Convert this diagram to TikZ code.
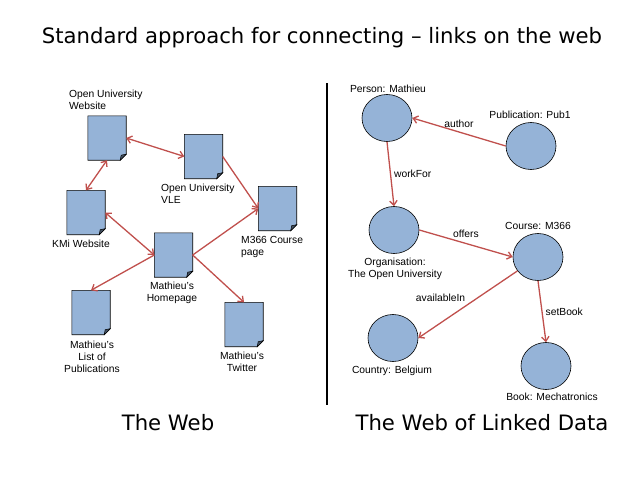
\documentclass[tikz,border=0pt]{standalone}
\usepackage{fontspec}
\setmainfont{Liberation Sans}
\newfontfamily\titlefont{DejaVu Sans}
\usetikzlibrary{arrows.meta,shapes.geometric}

\definecolor{docblue}{RGB}{149,179,215}
\definecolor{linkred}{RGB}{192,80,77}

\tikzset{
	doc/.style={rectangle, minimum width=38pt, minimum height=44pt, inner sep=0pt,
		append after command={\pgfextra{
			\filldraw[fill=docblue, draw=black, line width=0.6pt]
				(\tikzlastnode.north west) -- (\tikzlastnode.north east)
				-- ([yshift=6pt]\tikzlastnode.south east)
				-- ([xshift=-6pt]\tikzlastnode.south east)
				-- (\tikzlastnode.south west) -- cycle;
			\filldraw[fill=docblue!45!black, draw=black, line width=0.5pt]
				([yshift=6pt]\tikzlastnode.south east)
				-- ([xshift=-6pt]\tikzlastnode.south east)
				-- ([xshift=-5pt,yshift=5pt]\tikzlastnode.south east) -- cycle;
		}}},
	res/.style={ellipse, draw=black, fill=docblue, line width=0.6pt,
		minimum width=50pt, minimum height=47pt, inner sep=0pt},
	lbl/.style={font=\fontsize{10.3}{11.8}\selectfont, inner sep=0pt},
	link/.style={draw=linkred, line width=1.3pt, -{Straight Barb[length=4.5pt,width=7.5pt]}},
	bilink/.style={draw=linkred, line width=1.3pt, {Straight Barb[length=4.5pt,width=7.5pt]}-{Straight Barb[length=4.5pt,width=7.5pt]}},
	big/.style={font=\titlefont\fontsize{21.2}{25}\selectfont, inner sep=0pt, anchor=base}
}

\begin{document}
\begin{tikzpicture}[x=1pt,y=-1pt]
	\useasboundingbox (0,0) rectangle (638,479);
	
	\node[big] (title) at (322,43) {Standard approach for connecting – links on the web};
	\node[big] (web) at (168,430) {The Web};
	\node[big] (lod) at (482,430) {The Web of Linked Data};
	
	\coordinate (divtop) at (327,83);
	\coordinate (divbot) at (327,405);
	\draw[line width=1.6pt] (divtop) -- (divbot);
	
	% the web
	\node[doc] (ouweb)   at (107,138)   {};
	\node[doc] (ouvle)   at (203.5,156.5) {};
	\node[doc] (kmi)     at (86,212.5)  {};
	\node[doc] (m366)    at (277.5,208.5) {};
	\node[doc] (home)    at (173.5,255) {};
	\node[doc] (pubs)    at (91,312.5)  {};
	\node[doc] (twitter) at (244,324.5) {};
	
	\node[lbl, align=left, anchor=north west]  (ouwebl)   at (69,90)   {Open University\\Website};
	\node[lbl, align=left, anchor=north west]  (ouvlel)   at (161,184) {Open University\\VLE};
	\node[lbl, align=left, anchor=north west]  (kmil)     at (52,240)  {KMi Website};
	\node[lbl, align=left, anchor=north west]  (m366l)    at (241,236) {M366 Course\\page};
	\node[lbl, align=center, anchor=north]     (homel)    at (172,282) {Mathieu's\\Homepage};
	\node[lbl, align=center, anchor=north]     (pubsl)    at (92,341)  {Mathieu's\\List of\\Publications};
	\node[lbl, align=center, anchor=north]     (twitterl) at (242,352) {Mathieu's\\Twitter};
	
	\draw[bilink] (ouweb.east) -- (ouvle.west);
	\draw[bilink] (ouweb.south) -- (kmi.north);
	\draw[bilink] (kmi.east) -- (home.west);
	\draw[link] (ouvle.east) -- (m366.west);
	\draw[link] (home.east) -- (m366.west);
	\draw[link] (home.west) -- (pubs.north);
	\draw[link] (home.east) -- (twitter.north);
	
	% the web of linked data
	\node[res] (person)  at (387,118) {};
	\node[res] (pub1)    at (531,146) {};
	\node[res] (org)     at (394,230) {};
	\node[res] (course)  at (538,257) {};
	\node[res] (belgium) at (393,338) {};
	\node[res] (mech)    at (546,366) {};
	
	\node[lbl, anchor=north] (personl)  at (388,85)  {Person: Mathieu};
	\node[lbl, anchor=north] (pub1l)    at (530,111) {Publication: Pub1};
	\node[lbl, anchor=north, align=center] (orgl) at (395,258) {Organisation:\\The Open University};
	\node[lbl, anchor=north] (coursel)  at (538,222) {Course: M366};
	\node[lbl, anchor=north] (belgiuml) at (392,366) {Country: Belgium};
	\node[lbl, anchor=north] (mechl)    at (552,393) {Book: Mechatronics};
	
	\draw[link] (pub1.west) -- node[lbl, above=4pt] {author} (person.east);
	\draw[link] (person.south) -- node[lbl, right=3pt] {workFor} (org.north);
	\draw[link] (org.east) -- node[lbl, above=5pt] {offers} (course.west);
	\draw[link] (course) -- node[lbl, above left=2pt] {availableIn} (belgium.east);
	\draw[link] (course.south) -- node[lbl, right=3pt] {setBook} (mech.north);
	
\end{tikzpicture}
\end{document}
